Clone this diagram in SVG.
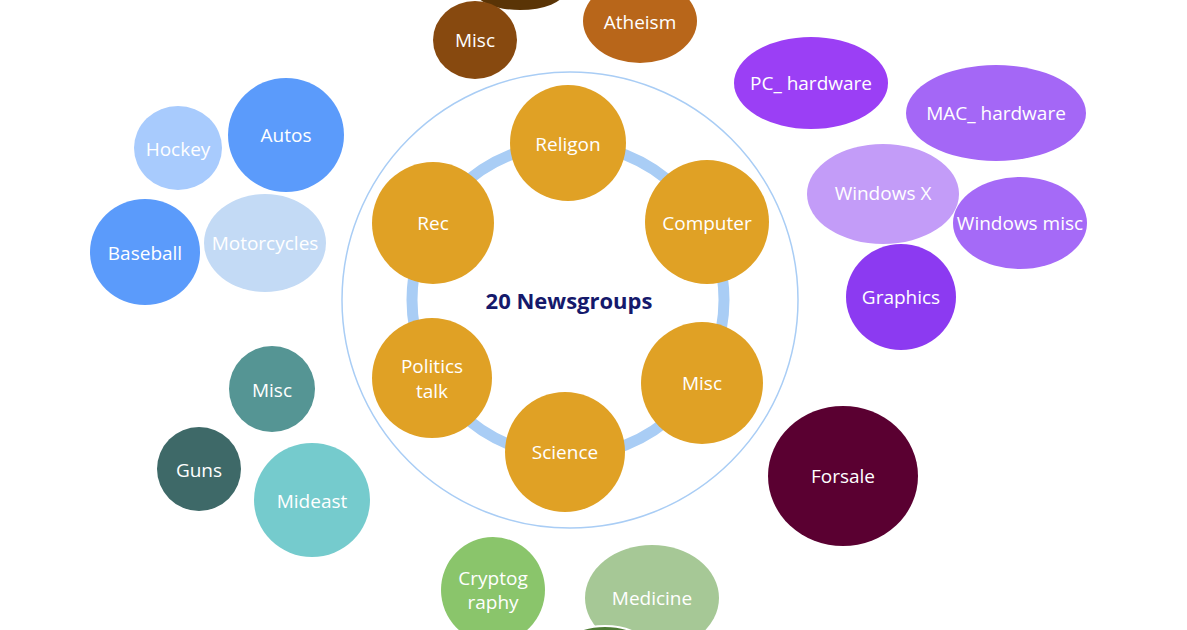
<svg xmlns="http://www.w3.org/2000/svg" width="1187" height="630" viewBox="0 0 1187 630">
<style>
text{font-family:"Open Sans","Noto Sans",sans-serif;fill:#fff;font-size:19px;text-anchor:middle;dominant-baseline:central}
.o{fill:#e0a125}
</style>
<rect width="1187" height="630" fill="#fff"/>
<g id="connectors">
<circle cx="570" cy="300" r="228" fill="none" stroke="#a9cdf5" stroke-width="1.5"/>
<circle cx="568" cy="300" r="156" fill="none" stroke="#a9cdf5" stroke-width="11"/>
</g>
<g id="title"><text x="569" y="300" style="fill:#15196b;font-weight:bold;font-size:22px">20 Newsgroups</text></g>
<g id="religon"><circle class="o" cx="568" cy="143" r="58"/><text x="568" y="144">Religon</text></g>
<g id="computer"><circle class="o" cx="707" cy="222" r="62"/><text x="707" y="223">Computer</text></g>
<g id="misc-c"><circle class="o" cx="702" cy="383" r="61"/><text x="702" y="383">Misc</text></g>
<g id="science"><circle class="o" cx="565" cy="452" r="60"/><text x="565" y="452">Science</text></g>
<g id="politics"><circle class="o" cx="432" cy="378" r="60"/><text x="432" y="366">Politics</text><text x="432" y="391">talk</text></g>
<g id="rec"><circle class="o" cx="433" cy="223" r="61"/><text x="433" y="223">Rec</text></g>
<g id="dark-top"><ellipse cx="520" cy="-8" rx="44" ry="18" fill="#5a3406"/></g>
<g id="misc-r"><ellipse cx="475" cy="40" rx="42" ry="39" fill="#87490f"/><text x="475" y="40">Misc</text></g>
<g id="atheism"><ellipse cx="640" cy="21" rx="57" ry="42" fill="#b8661a"/><text x="640" y="22">Atheism</text></g>
<g id="pc"><ellipse cx="811" cy="83" rx="77" ry="46" fill="#9b3ff5"/><text x="811" y="83">PC_ hardware</text></g>
<g id="mac"><ellipse cx="996" cy="113" rx="90" ry="48" fill="#a467f6"/><text x="996" y="113">MAC_ hardware</text></g>
<g id="winx"><ellipse cx="883" cy="194" rx="76" ry="50" fill="#c39cf8"/><text x="883" y="193">Windows X</text></g>
<g id="winmisc"><ellipse cx="1020" cy="223" rx="67" ry="46" fill="#a56af7"/><text x="1020" y="223">Windows misc</text></g>
<g id="graphics"><ellipse cx="901" cy="297" rx="55" ry="53" fill="#8c3af1"/><text x="901" y="297">Graphics</text></g>
<g id="forsale"><ellipse cx="843" cy="476" rx="75" ry="70" fill="#5a0031"/><text x="843" y="476">Forsale</text></g>
<g id="hockey"><ellipse cx="178" cy="148" rx="44" ry="42" fill="#a8cbfd"/><text x="178" y="149">Hockey</text></g>
<g id="autos"><ellipse cx="286" cy="135" rx="58" ry="57" fill="#5b9bfb"/><text x="286" y="135">Autos</text></g>
<g id="baseball"><ellipse cx="145" cy="252" rx="55" ry="53" fill="#5b9bfb"/><text x="145" y="253">Baseball</text></g>
<g id="motorcycles"><ellipse cx="265" cy="243" rx="61" ry="49" fill="#c3daf5"/><text x="265" y="243">Motorcycles</text></g>
<g id="misc-p"><ellipse cx="272" cy="389" rx="43" ry="43" fill="#559594"/><text x="272" y="390">Misc</text></g>
<g id="guns"><ellipse cx="199" cy="469" rx="42" ry="42" fill="#3e6968"/><text x="199" y="470">Guns</text></g>
<g id="mideast"><ellipse cx="312" cy="500" rx="58" ry="57" fill="#75cbcd"/><text x="312" y="501">Mideast</text></g>
<g id="crypto"><ellipse cx="493" cy="590" rx="52" ry="53" fill="#8ac56b"/><text x="493" y="578">Cryptog</text><text x="493" y="602">raphy</text></g>
<g id="medicine"><ellipse cx="652" cy="598" rx="67" ry="53" fill="#a6c896"/><text x="652" y="598">Medicine</text></g>
<g id="dark-bottom"><ellipse cx="605" cy="648" rx="42" ry="22" fill="#4e7b35" stroke="#fff" stroke-width="2"/></g>
</svg>
